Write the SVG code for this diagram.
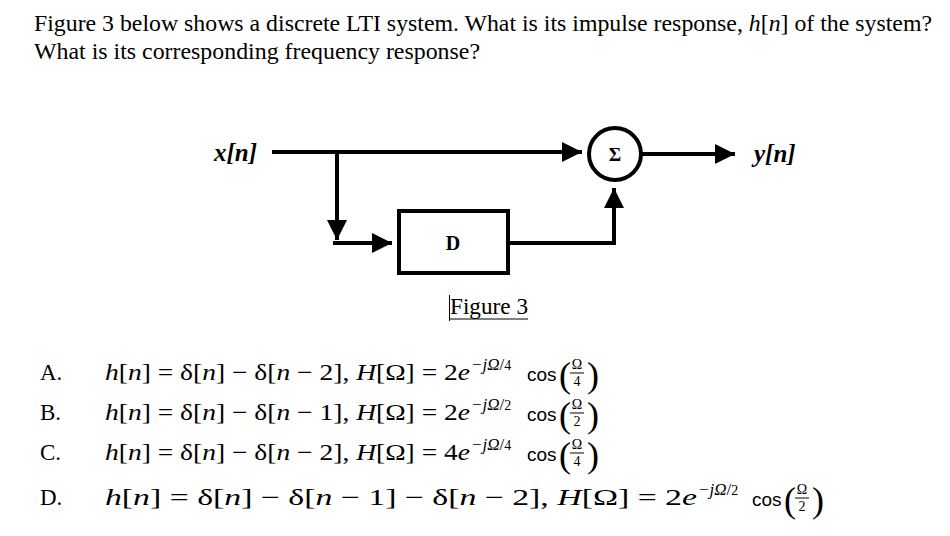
<svg xmlns="http://www.w3.org/2000/svg" width="950" height="536" viewBox="0 0 950 536">
<style>
.t{font-family:"Liberation Serif",serif;font-size:23px;fill:#000}
.m{font-family:"Liberation Serif",serif;font-size:23px;font-style:italic;fill:#000}
.s{font-family:"Liberation Serif",serif;font-size:17px;font-style:italic}
.c{font-family:"Liberation Sans",sans-serif;font-size:19px}
.f{font-family:"Liberation Serif",serif;font-size:14px}
.p{font-family:"Liberation Serif",serif;font-size:36px}
.w{stroke:#000;stroke-width:4;fill:none}
</style>
<defs><marker id="a" markerWidth="6" markerHeight="6" refX="5" refY="3" orient="auto" markerUnits="strokeWidth"><path d="M0,0.5L5,3L0,5.5z" fill="#000"/></marker></defs>
<rect width="950" height="536" fill="#fff"/>
<text class="t" x="34" y="31" textLength="898" lengthAdjust="spacingAndGlyphs">Figure 3 below shows a discrete LTI system. What is its impulse response, <tspan font-style="italic">h</tspan>[<tspan font-style="italic">n</tspan>] of the system?</text>
<text class="t" x="34" y="59" textLength="446" lengthAdjust="spacingAndGlyphs">What is its corresponding frequency response?</text>
<g id="connectors">
<path class="w" d="M272,152H582" marker-end="url(#a)"/>
<path class="w" d="M337,152V240" marker-end="url(#a)"/>
<path class="w" d="M333,243H392" marker-end="url(#a)"/>
<path class="w" d="M508,243H614V188" marker-end="url(#a)"/>
<path class="w" d="M642,154H735" marker-end="url(#a)"/>
</g>
<g id="x"><text x="214" y="161" font-family="Liberation Serif,serif" font-size="25" font-weight="bold" font-style="italic">x[n]</text></g>
<g id="sum"><circle cx="615" cy="154" r="26" class="w" stroke-width="3.5"/><text x="615" y="161" text-anchor="middle" font-family="Liberation Serif,serif" font-size="19" font-weight="bold">Σ</text></g>
<g id="D"><rect x="399" y="211" width="109" height="62" class="w" stroke-width="3.5"/><text x="453" y="250" text-anchor="middle" font-family="Liberation Serif,serif" font-size="20" font-weight="bold">D</text></g>
<g id="y"><text x="754" y="162" font-family="Liberation Serif,serif" font-size="25" font-weight="bold" font-style="italic">y[n]</text></g>
<text class="t" x="450" y="314" textLength="78" lengthAdjust="spacingAndGlyphs">Figure 3</text>
<line x1="450" y1="319" x2="528" y2="319" stroke="#000"/>
<line x1="449.5" y1="295" x2="449.5" y2="321" stroke="#000"/>
<g id="A">
<text class="t" x="40" y="380">A.</text>
<text class="m" x="105" y="380" textLength="365" lengthAdjust="spacingAndGlyphs">h<tspan font-style="normal">[</tspan>n<tspan font-style="normal">] = δ[</tspan>n<tspan font-style="normal">] − δ[</tspan>n<tspan font-style="normal"> − 2], </tspan>H<tspan font-style="normal">[Ω] = 2</tspan>e</text>
<text class="s" x="471" y="370">−jΩ<tspan font-style="normal">/</tspan><tspan font-style="normal" font-size="14">4</tspan></text>
<text class="c" x="527" y="381">cos</text>
<text class="p" x="559" y="387">(</text><text class="p" x="587" y="387">)</text>
<text class="f" x="577" y="369" text-anchor="middle">Ω</text><line x1="570" y1="373" x2="584" y2="373" stroke="#000"/><text class="f" x="577" y="386" text-anchor="middle">4</text>
</g>
<g id="B">
<text class="t" x="40" y="420">B.</text>
<text class="m" x="105" y="420" textLength="365" lengthAdjust="spacingAndGlyphs">h<tspan font-style="normal">[</tspan>n<tspan font-style="normal">] = δ[</tspan>n<tspan font-style="normal">] − δ[</tspan>n<tspan font-style="normal"> − 1], </tspan>H<tspan font-style="normal">[Ω] = 2</tspan>e</text>
<text class="s" x="471" y="410">−jΩ<tspan font-style="normal">/</tspan><tspan font-style="normal" font-size="14">2</tspan></text>
<text class="c" x="527" y="421">cos</text>
<text class="p" x="559" y="427">(</text><text class="p" x="587" y="427">)</text>
<text class="f" x="577" y="409" text-anchor="middle">Ω</text><line x1="570" y1="413" x2="584" y2="413" stroke="#000"/><text class="f" x="577" y="426" text-anchor="middle">2</text>
</g>
<g id="C">
<text class="t" x="40" y="460">C.</text>
<text class="m" x="105" y="460" textLength="365" lengthAdjust="spacingAndGlyphs">h<tspan font-style="normal">[</tspan>n<tspan font-style="normal">] = δ[</tspan>n<tspan font-style="normal">] − δ[</tspan>n<tspan font-style="normal"> − 2], </tspan>H<tspan font-style="normal">[Ω] = 4</tspan>e</text>
<text class="s" x="471" y="450">−jΩ<tspan font-style="normal">/</tspan><tspan font-style="normal" font-size="14">4</tspan></text>
<text class="c" x="527" y="461">cos</text>
<text class="p" x="559" y="467">(</text><text class="p" x="587" y="467">)</text>
<text class="f" x="577" y="449" text-anchor="middle">Ω</text><line x1="570" y1="453" x2="584" y2="453" stroke="#000"/><text class="f" x="577" y="466" text-anchor="middle">4</text>
</g>
<g id="Dopt">
<text class="t" x="40" y="505">D.</text>
<text class="m" x="105" y="505" textLength="592" lengthAdjust="spacingAndGlyphs">h<tspan font-style="normal">[</tspan>n<tspan font-style="normal">] = δ[</tspan>n<tspan font-style="normal">] − δ[</tspan>n<tspan font-style="normal"> − 1] − δ[</tspan>n<tspan font-style="normal"> − 2], </tspan>H<tspan font-style="normal">[Ω] = 2</tspan>e</text>
<text class="s" x="698" y="495">−jΩ<tspan font-style="normal">/</tspan><tspan font-style="normal" font-size="14">2</tspan></text>
<text class="c" x="752" y="506">cos</text>
<text class="p" x="784" y="512">(</text><text class="p" x="812" y="512">)</text>
<text class="f" x="802" y="494" text-anchor="middle">Ω</text><line x1="795" y1="498" x2="809" y2="498" stroke="#000"/><text class="f" x="802" y="511" text-anchor="middle">2</text>
</g>
</svg>
